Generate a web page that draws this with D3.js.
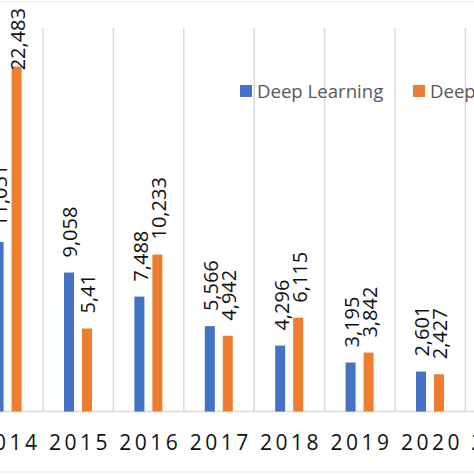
<!DOCTYPE html>
<html>
<head>
<meta charset="utf-8">
<script src="https://cdn.jsdelivr.net/npm/d3@7"></script>
<style>
  html, body { margin: 0; padding: 0; background: #fff; }
  svg { display: block; font-family: 'Open Sans', sans-serif; }
</style>
</head>
<body>
<div id="viz"></div>
<script>
const years = ['2014', '2015', '2016', '2017', '2018', '2019', '2020', '2021'];
const series = ['Deep Learning', 'Deep Neural Networks'];
const deepLearning = [11051, 9058, 7488, 5566, 4296, 3195, 2601];
const deepOther = [22483, 5410, 10233, 4942, 6115, 3842, 2427];
const labelText = [
  ['11,051', '9,058', '7,488', '5,566', '4,296', '3,195', '2,601'],
  ['22,483', '5,41', '10,233', '4,942', '6,115', '3,842', '2,427']
];
const colors = ['#4472c4', '#ed7d31'];

const width = 474;
const height = 474;
const step = 70.4;
const baseY = 411.5;

const svg = d3.select('#viz')
  .append('svg')
  .attr('width', width)
  .attr('height', height);

// chart is cropped: first group starts left of the frame
const x = d3.scaleBand()
  .domain(years)
  .range([-27.4, -27.4 + years.length * step]);

const xSub = d3.scaleBand()
  .domain(series)
  .range([21, 49])
  .paddingInner(0.444);

const y = d3.scaleLinear()
  .domain([0, 25000])
  .range([baseY, 28]);

// frame edges
svg.append('line')
  .attr('x1', 0).attr('x2', width)
  .attr('y1', 1.5).attr('y2', 1.5)
  .attr('stroke', '#eeeeee');
svg.append('line')
  .attr('x1', 0).attr('x2', width)
  .attr('y1', 472).attr('y2', 472)
  .attr('stroke', '#e6e6e6');

// vertical gridlines between categories
svg.append('g')
  .selectAll('line')
  .data(years)
  .enter()
  .append('line')
  .attr('x1', d => x(d) + x.bandwidth())
  .attr('x2', d => x(d) + x.bandwidth())
  .attr('y1', y(25000))
  .attr('y2', baseY)
  .attr('stroke', '#d9d9d9')
  .attr('stroke-width', 1.5);

svg.append('line')
  .attr('x1', 0).attr('x2', width)
  .attr('y1', baseY).attr('y2', baseY)
  .attr('stroke', '#d9d9d9')
  .attr('stroke-width', 1.5);

const rows = [];
[deepLearning, deepOther].forEach((vals, s) => {
  vals.forEach((v, i) => {
    rows.push({year: years[i], s: s, value: v, label: labelText[s][i]});
  });
});

svg.append('g')
  .selectAll('rect')
  .data(rows)
  .enter()
  .append('rect')
  .attr('x', d => x(d.year) + xSub(series[d.s]))
  .attr('y', d => y(d.value))
  .attr('width', xSub.bandwidth())
  .attr('height', d => baseY - y(d.value))
  .attr('fill', d => colors[d.s]);

// data labels, kept inside the plot area like Excel does
svg.append('g')
  .selectAll('text')
  .data(rows)
  .enter()
  .append('text')
  .attr('dy', '0.42em')
  .attr('font-size', 20)
  .attr('fill', '#111')
  .text(d => d.label)
  .each(function(d) {
    const len = this.getComputedTextLength();
    const cx = x(d.year) + xSub(series[d.s]) + xSub.bandwidth() / 2;
    const bottom = Math.max(y(d.value) - 15, 8 + len);
    d3.select(this).attr('transform', 'translate(' + cx + ',' + bottom + ') rotate(-90)');
  });

// category labels
const xAxis = d3.axisBottom(x).tickSize(0).tickPadding(0);
const axisG = svg.append('g')
  .attr('transform', 'translate(0,' + baseY + ')')
  .call(xAxis);
axisG.select('.domain').remove();
axisG.selectAll('text')
  .attr('y', 38)
  .attr('dy', 0)
  .attr('dx', 1.7)
  .attr('font-family', "'Open Sans', sans-serif")
  .attr('font-size', 21)
  .attr('letter-spacing', 3.5)
  .attr('fill', '#111');

// legend
const legend = svg.append('g');
const legendX = [240, 413];
series.forEach((name, i) => {
  legend.append('rect')
    .attr('x', legendX[i])
    .attr('y', 85)
    .attr('width', 12)
    .attr('height', 12)
    .attr('fill', colors[i]);
  legend.append('text')
    .attr('x', legendX[i] + 17)
    .attr('y', 91)
    .attr('dy', '0.35em')
    .attr('font-size', 18.6)
    .attr('fill', '#595959')
    .text(name);
});
</script>
</body>
</html>
